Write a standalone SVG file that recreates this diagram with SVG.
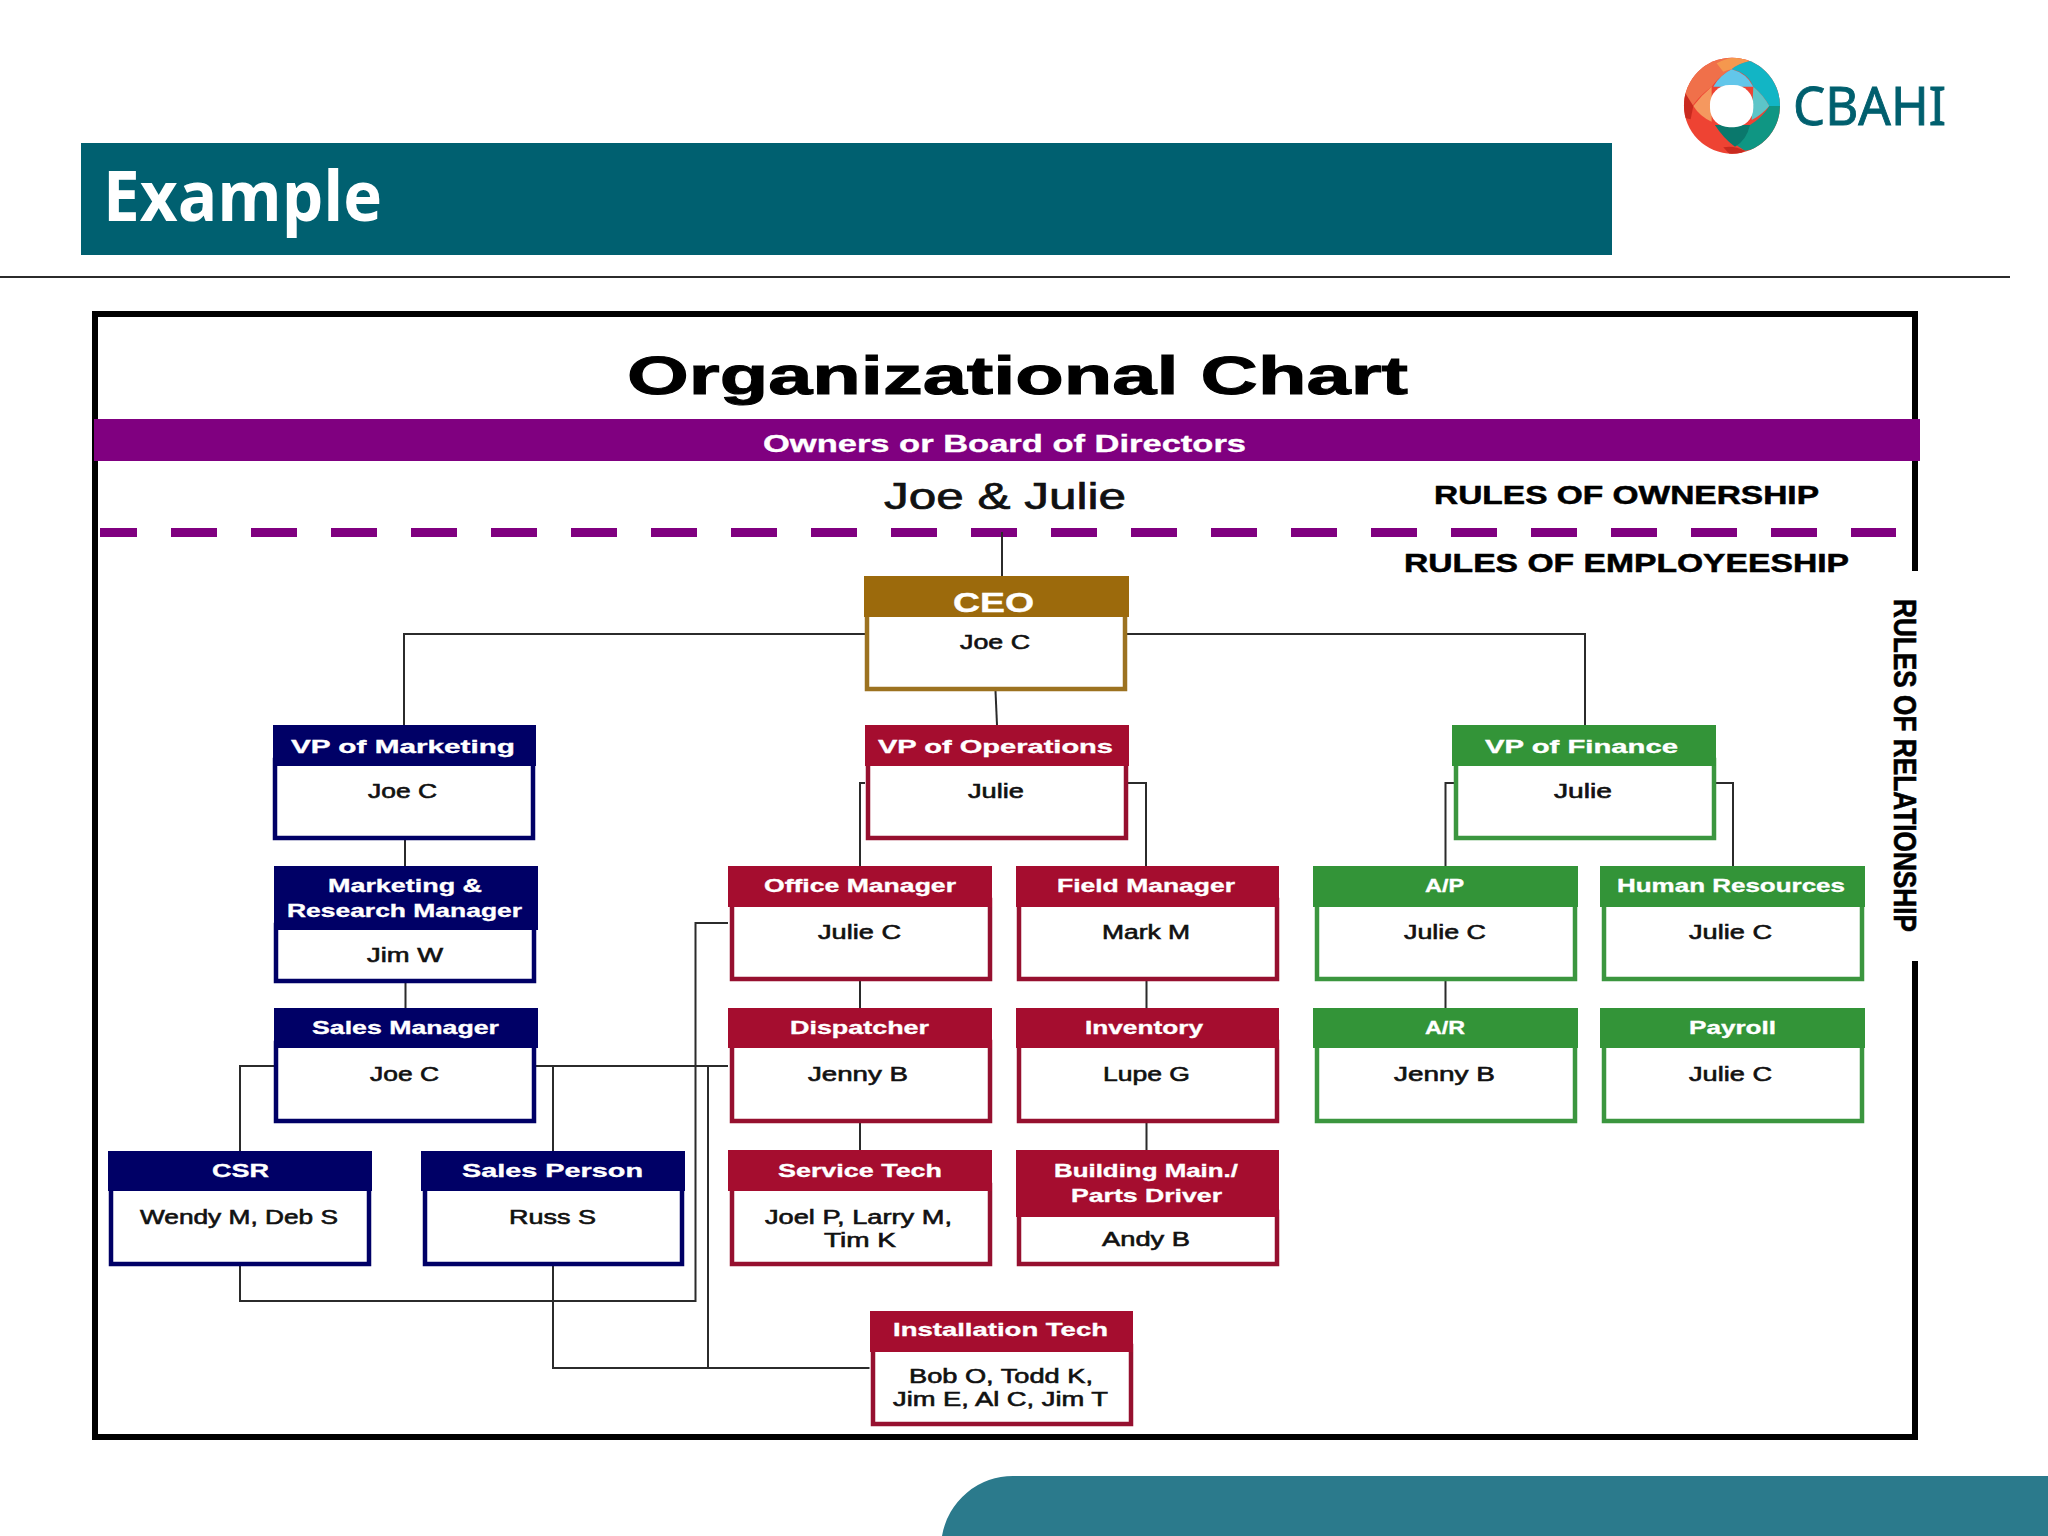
<svg xmlns="http://www.w3.org/2000/svg" width="2048" height="1536" viewBox="0 0 2048 1536">
<style>
text{font-family:"Liberation Sans",Arial,sans-serif}
.hd{font-weight:bold;font-size:19px;fill:#fff;stroke:#fff;stroke-width:.35}
.nm{font-size:20px;fill:#111;stroke:#111;stroke-width:.6}
.b{fill:#fff;stroke-width:4.5}
.navy .h{fill:#000066}.navy .b{stroke:#000066}
.red .h{fill:#a50d2f}.red .b{stroke:#96102f}
.green .h{fill:#339438}.green .b{stroke:#3b963f}
.gold .h{fill:#9c6a0c}.gold .b{stroke:#9c7220}
.c{fill:none;stroke:#2b2b2b;stroke-width:2}
.rule{font-weight:bold;font-size:25px;fill:#000;stroke:#000;stroke-width:.5}
</style>
<defs><clipPath id="lc"><circle cx="516" cy="227" r="144"/></clipPath></defs>
<rect width="2048" height="1536" fill="#fff"/>
<rect x="81" y="143" width="1531" height="112" fill="#006070"/>
<text x="103" y="221" font-size="70" font-weight="bold" fill="#fff" textLength="279" lengthAdjust="spacingAndGlyphs" style="font-family:'Open Sans',sans-serif">Example</text>
<path d="M0 277H2010" stroke="#2b2b2b" stroke-width="2"/>
<g id="logo">
<g transform="translate(1560 30) scale(.3333)">
<g clip-path="url(#lc)">
<rect x="360" y="70" width="320" height="320" fill="#ee4333"/>
<path d="M360 60H570V93Q490 120 455 170Q420 195 395 230L360 200Z" fill="#f0704a"/>
<path d="M470 100Q520 70 570 93Q535 100 515 118Q500 120 490 125Z" fill="#f5984e"/>
<path d="M570 93L670 100V228H628Q610 195 580 170Q565 130 515 118Q535 100 570 93Z" fill="#12b5c5"/>
<path d="M515 118Q560 130 580 170L460 170Q480 135 515 118Z" fill="#62c6ea"/>
<path d="M580 170Q610 195 628 228Q605 255 575 270Z" fill="#5cc5c8"/>
<path d="M628 228H670V340L555 362Q500 330 465 285H570Q610 260 628 228Z" fill="#0f9683"/>
<path d="M465 285H570Q560 330 525 350Q490 325 465 285Z" fill="#0a786c"/>
<path d="M400 228Q425 195 455 170V275Q420 260 400 228Z" fill="#f5985f"/>
<path d="M376 190L400 228L392 268L360 260V190Z" fill="#c92a1f"/>
<path d="M490 352Q520 345 555 362L520 385Z" fill="#c92a1f"/>
</g>
<rect x="450" y="165" width="130" height="127" rx="58" fill="#fff"/>
</g>
<text x="1793" y="125" font-size="52" fill="#005f6e" stroke="#005f6e" stroke-width=".9" textLength="153" lengthAdjust="spacingAndGlyphs" style="font-family:'Noto Sans',sans-serif">CBAHI</text>
</g>
<path d="M942 1536A72 72 0 0 1 1014 1476H2048V1536Z" fill="#2b7a8c"/>

<path d="M1915 571V314H95V1437H1915V961" fill="none" stroke="#000" stroke-width="6"/>
<text x="627" y="394" font-size="54" font-weight="bold" fill="#000" stroke="#000" stroke-width="1" textLength="781" lengthAdjust="spacingAndGlyphs">Organizational Chart</text>
<rect x="94" y="419" width="1826" height="42" fill="#800080"/>
<text x="763" y="452" font-size="24" font-weight="bold" fill="#fff" stroke="#fff" stroke-width=".35" textLength="483" lengthAdjust="spacingAndGlyphs">Owners or Board of Directors</text>
<text x="884" y="509" font-size="37" fill="#111" stroke="#111" stroke-width=".7" textLength="242" lengthAdjust="spacingAndGlyphs">Joe &amp; Julie</text>
<text class="rule" x="1434" y="504" textLength="385" lengthAdjust="spacingAndGlyphs">RULES OF OWNERSHIP</text>
<text class="rule" x="1404" y="572" textLength="445" lengthAdjust="spacingAndGlyphs">RULES OF EMPLOYEESHIP</text>
<text transform="translate(1894 599) rotate(90)" font-size="31" font-weight="bold" fill="#000" stroke="#000" stroke-width=".6" textLength="333" lengthAdjust="spacingAndGlyphs">RULES OF RELATIONSHIP</text>
<path d="M100 532.500H137" fill="none" stroke="#800080" stroke-width="9"/>
<path d="M171 532.500H1896" fill="none" stroke="#800080" stroke-width="9" stroke-dasharray="46 34"/>

<g id="connectors" class="c">
<path d="M1002 532V576"/>
<path d="M865 634H404V725"/>
<path d="M1126 634H1585V725"/>
<path d="M995.500 691L997 725"/>
<path d="M865 783H860V866M1128 783H1146V866"/>
<path d="M860 980V1008M860 1123V1150M1146.500 980V1008M1146.500 1123V1150"/>
<path d="M1455 783H1445.500V866M1716 783H1733V866M1445.500 980V1008"/>
<path d="M405 839V866M405.500 982V1008"/>
<path d="M274 1066H240V1151"/>
<path d="M536 1066H728M553 1066V1151"/>
<path d="M240 1265V1301H695.500V923H728"/>
<path d="M553 1265V1368H869.500M708 1066V1368"/>
</g>

<g id="vp-marketing" class="navy"><rect class="b" x="275" y="760" width="258" height="78"/><rect class="h" x="273" y="725" width="263" height="41"/><text class="hd" x="291" y="753" textLength="224" lengthAdjust="spacingAndGlyphs">VP of Marketing</text><text class="nm" x="368" y="798" textLength="69" lengthAdjust="spacingAndGlyphs">Joe C</text></g>
<g id="marketing-research" class="navy"><rect class="b" x="276" y="925" width="258" height="56"/><rect class="h" x="274" y="866" width="264" height="64"/><text class="hd" x="328" y="892" textLength="154" lengthAdjust="spacingAndGlyphs">Marketing &amp;</text><text class="hd" x="287" y="917" textLength="235" lengthAdjust="spacingAndGlyphs">Research Manager</text><text class="nm" x="367" y="962" textLength="76" lengthAdjust="spacingAndGlyphs">Jim W</text></g>
<g id="sales-manager" class="navy"><rect class="b" x="276" y="1043" width="258" height="78"/><rect class="h" x="274" y="1008" width="264" height="40"/><text class="hd" x="312" y="1034" textLength="187" lengthAdjust="spacingAndGlyphs">Sales Manager</text><text class="nm" x="370" y="1081" textLength="69" lengthAdjust="spacingAndGlyphs">Joe C</text></g>
<g id="csr" class="navy"><rect class="b" x="111" y="1186" width="258" height="78"/><rect class="h" x="108" y="1151" width="264" height="40"/><text class="hd" x="212" y="1177" textLength="57" lengthAdjust="spacingAndGlyphs">CSR</text><text class="nm" x="140" y="1224" textLength="198" lengthAdjust="spacingAndGlyphs">Wendy M, Deb S</text></g>
<g id="sales-person" class="navy"><rect class="b" x="425" y="1186" width="257" height="78"/><rect class="h" x="421" y="1151" width="264" height="40"/><text class="hd" x="462" y="1177" textLength="181" lengthAdjust="spacingAndGlyphs">Sales Person</text><text class="nm" x="509" y="1224" textLength="87" lengthAdjust="spacingAndGlyphs">Russ S</text></g>

<g id="ceo" class="gold"><rect class="b" x="867" y="610" width="258" height="79"/><rect class="h" x="864" y="576" width="265" height="41"/><text x="953" y="612" font-size="28" font-weight="bold" fill="#fff" stroke="#fff" stroke-width=".4" textLength="81" lengthAdjust="spacingAndGlyphs">CEO</text><text class="nm" x="960" y="649" textLength="70" lengthAdjust="spacingAndGlyphs">Joe C</text></g>
<g id="vp-operations" class="red"><rect class="b" x="868" y="760" width="258" height="78"/><rect class="h" x="865" y="725" width="264" height="41"/><text class="hd" x="878" y="753" textLength="235" lengthAdjust="spacingAndGlyphs">VP of Operations</text><text class="nm" x="968" y="798" textLength="56" lengthAdjust="spacingAndGlyphs">Julie</text></g>
<g id="office-manager" class="red"><rect class="b" x="732" y="900" width="258" height="79"/><rect class="h" x="728" y="866" width="264" height="41"/><text class="hd" x="764" y="892" textLength="192" lengthAdjust="spacingAndGlyphs">Office Manager</text><text class="nm" x="818" y="939" textLength="83" lengthAdjust="spacingAndGlyphs">Julie C</text></g>
<g id="field-manager" class="red"><rect class="b" x="1019" y="900" width="258" height="79"/><rect class="h" x="1016" y="866" width="263" height="41"/><text class="hd" x="1057" y="892" textLength="178" lengthAdjust="spacingAndGlyphs">Field Manager</text><text class="nm" x="1102" y="939" textLength="88" lengthAdjust="spacingAndGlyphs">Mark M</text></g>
<g id="dispatcher" class="red"><rect class="b" x="732" y="1042" width="258" height="79"/><rect class="h" x="728" y="1008" width="264" height="40"/><text class="hd" x="790" y="1034" textLength="139" lengthAdjust="spacingAndGlyphs">Dispatcher</text><text class="nm" x="808" y="1081" textLength="100" lengthAdjust="spacingAndGlyphs">Jenny B</text></g>
<g id="inventory" class="red"><rect class="b" x="1019" y="1042" width="258" height="79"/><rect class="h" x="1016" y="1008" width="263" height="40"/><text class="hd" x="1085" y="1034" textLength="118" lengthAdjust="spacingAndGlyphs">Inventory</text><text class="nm" x="1103" y="1081" textLength="87" lengthAdjust="spacingAndGlyphs">Lupe G</text></g>
<g id="service-tech" class="red"><rect class="b" x="732" y="1185" width="258" height="79"/><rect class="h" x="728" y="1150" width="264" height="41"/><text class="hd" x="778" y="1177" textLength="164" lengthAdjust="spacingAndGlyphs">Service Tech</text><text class="nm" x="765" y="1224" textLength="187" lengthAdjust="spacingAndGlyphs">Joel P, Larry M,</text><text class="nm" x="824" y="1247" textLength="72" lengthAdjust="spacingAndGlyphs">Tim K</text></g>
<g id="building-main" class="red"><rect class="b" x="1019" y="1212" width="258" height="52"/><rect class="h" x="1016" y="1150" width="263" height="67"/><text class="hd" x="1054" y="1177" textLength="184" lengthAdjust="spacingAndGlyphs">Building Main./</text><text class="hd" x="1071" y="1202" textLength="151" lengthAdjust="spacingAndGlyphs">Parts Driver</text><text class="nm" x="1102" y="1246" textLength="88" lengthAdjust="spacingAndGlyphs">Andy B</text></g>
<g id="installation-tech" class="red"><rect class="b" x="873" y="1346" width="258" height="78"/><rect class="h" x="870" y="1311" width="263" height="41"/><text class="hd" x="893" y="1336" textLength="215" lengthAdjust="spacingAndGlyphs">Installation Tech</text><text class="nm" x="909" y="1383" textLength="184" lengthAdjust="spacingAndGlyphs">Bob O, Todd K,</text><text class="nm" x="893" y="1406" textLength="215" lengthAdjust="spacingAndGlyphs">Jim E, Al C, Jim T</text></g>

<g id="vp-finance" class="green"><rect class="b" x="1456" y="760" width="258" height="78"/><rect class="h" x="1452" y="725" width="264" height="41"/><text class="hd" x="1485" y="753" textLength="193" lengthAdjust="spacingAndGlyphs">VP of Finance</text><text class="nm" x="1554" y="798" textLength="58" lengthAdjust="spacingAndGlyphs">Julie</text></g>
<g id="ap" class="green"><rect class="b" x="1317" y="900" width="258" height="79"/><rect class="h" x="1313" y="866" width="265" height="41"/><text class="hd" x="1425" y="892" textLength="39" lengthAdjust="spacingAndGlyphs">A/P</text><text class="nm" x="1404" y="939" textLength="82" lengthAdjust="spacingAndGlyphs">Julie C</text></g>
<g id="human-resources" class="green"><rect class="b" x="1604" y="900" width="258" height="79"/><rect class="h" x="1600" y="866" width="265" height="41"/><text class="hd" x="1617" y="892" textLength="228" lengthAdjust="spacingAndGlyphs">Human Resources</text><text class="nm" x="1689" y="939" textLength="83" lengthAdjust="spacingAndGlyphs">Julie C</text></g>
<g id="ar" class="green"><rect class="b" x="1317" y="1042" width="258" height="79"/><rect class="h" x="1313" y="1008" width="265" height="40"/><text class="hd" x="1425" y="1034" textLength="40" lengthAdjust="spacingAndGlyphs">A/R</text><text class="nm" x="1394" y="1081" textLength="101" lengthAdjust="spacingAndGlyphs">Jenny B</text></g>
<g id="payroll" class="green"><rect class="b" x="1604" y="1042" width="258" height="79"/><rect class="h" x="1600" y="1008" width="265" height="40"/><text class="hd" x="1689" y="1034" textLength="87" lengthAdjust="spacingAndGlyphs">Payroll</text><text class="nm" x="1689" y="1081" textLength="83" lengthAdjust="spacingAndGlyphs">Julie C</text></g>
</svg>
